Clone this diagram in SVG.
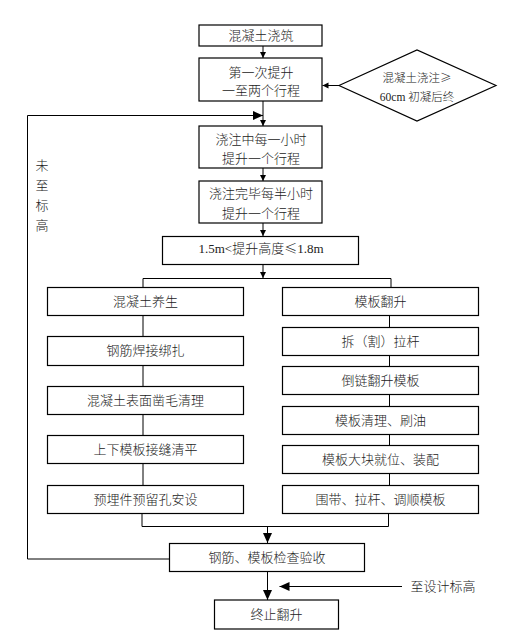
<svg xmlns="http://www.w3.org/2000/svg" width="509" height="638" viewBox="0 0 509 638">
<style>
.box{fill:#fff;stroke:#000;stroke-width:1.2}
.ln{fill:none;stroke:#000;stroke-width:1}
text{font-family:"Liberation Serif","Noto Sans CJK SC",serif;font-size:13px;font-weight:300;fill:#222;text-anchor:middle}
.sm{font-size:11.5px}
.cj{font-family:"Noto Sans CJK SC",sans-serif}
</style>
<defs>
<marker id="s" markerUnits="userSpaceOnUse" markerWidth="7" markerHeight="7" refX="6" refY="3" orient="auto"><path d="M0,0 L6,3 L0,6 z" fill="#000"/></marker>
<marker id="b" markerUnits="userSpaceOnUse" markerWidth="11" markerHeight="10" refX="10" refY="4.5" orient="auto"><path d="M0,0 L10,4.5 L0,9 z" fill="#000"/></marker>
</defs>
<g id="connectors">
<line class="ln" x1="263" y1="46" x2="263" y2="58" marker-end="url(#s)"/>
<line class="ln" x1="339" y1="85.5" x2="322.5" y2="85.5" marker-end="url(#s)"/>
<line class="ln" x1="263" y1="101" x2="263" y2="126" marker-end="url(#s)"/>
<polyline class="ln" points="170,559 27.5,559 27.5,115.5 263,115.5" marker-end="url(#b)"/>
<line class="ln" x1="263" y1="168" x2="263" y2="181" marker-end="url(#s)"/>
<line class="ln" x1="263" y1="223" x2="263" y2="236" marker-end="url(#s)"/>
<line class="ln" x1="263" y1="264" x2="263" y2="278" marker-end="url(#s)"/>
<path class="ln" d="M143,287 V278.5 H391 V287"/>
<path class="ln" d="M143,315 V336 M143,365 V386 M143,414 V435 M143,463 V485"/>
<path class="ln" d="M389.5,315 V327 M389.5,355 V366 M389.5,394 V406 M389.5,434 V445 M389.5,473 V485"/>
<path class="ln" d="M142,513 V526.5 H388.5 V513"/>
<line class="ln" x1="267.5" y1="526.5" x2="267.5" y2="543" marker-end="url(#b)"/>
<line class="ln" x1="267.5" y1="572" x2="267.5" y2="600" marker-end="url(#b)"/>
<line class="ln" x1="402" y1="586.5" x2="279.5" y2="586.5" marker-end="url(#b)"/>
</g>
<g id="n1"><rect class="box" x="199" y="25" width="123" height="21"/><text x="261" y="40">混凝土浇筑</text></g>
<g id="n2"><rect class="box" x="199" y="58" width="123" height="43"/><text x="261" y="76.5">第一次提升</text><text x="261" y="94.5">一至两个行程</text></g>
<g id="n_d"><polygon class="box" points="339,85.5 417,50 496,85.5 417,121"/><text class="sm" x="417" y="82">混凝土浇注<tspan class="cj">≥</tspan></text><text class="sm" x="417" y="101">60cm 初凝后终</text></g>
<g id="n3"><rect class="box" x="199" y="126" width="123" height="42"/><text x="261" y="143.5">浇注中每一小时</text><text x="261" y="162.5">提升一个行程</text></g>
<g id="n4"><rect class="box" x="199" y="181" width="123" height="42"/><text x="261" y="197.5">浇注完毕每半小时</text><text x="261" y="217.5">提升一个行程</text></g>
<g id="n5"><rect class="box" x="162.5" y="236.5" width="196" height="28"/><text x="261" y="252.5">1.5m&lt;提升高度<tspan class="cj">≤</tspan>1.8m</text></g>
<g id="lbl_left"><text x="42" y="170">未</text><text x="42" y="190">至</text><text x="42" y="210">标</text><text x="42" y="230">高</text></g>
<g id="l1"><rect class="box" x="47.5" y="287.5" width="196" height="28"/><text x="145.5" y="305.5">混凝土养生</text></g>
<g id="l2"><rect class="box" x="47.5" y="336.5" width="196" height="29"/><text x="145.5" y="355">钢筋焊接绑扎</text></g>
<g id="l3"><rect class="box" x="47.5" y="386.5" width="196" height="28"/><text x="145.5" y="404.5">混凝土表面凿毛清理</text></g>
<g id="l4"><rect class="box" x="47.5" y="435.5" width="196" height="28"/><text x="145.5" y="453.5">上下模板接缝清平</text></g>
<g id="l5"><rect class="box" x="47.5" y="485.5" width="196" height="28"/><text x="145.5" y="503.5">预埋件预留孔安设</text></g>
<g id="r1"><rect class="box" x="282.5" y="287.5" width="196" height="28"/><text x="380.5" y="305.5">模板翻升</text></g>
<g id="r2"><rect class="box" x="282.5" y="327.5" width="196" height="28"/><text x="380.5" y="345.5">拆（割）拉杆</text></g>
<g id="r3"><rect class="box" x="282.5" y="366.5" width="196" height="28"/><text x="380.5" y="384.5">倒链翻升模板</text></g>
<g id="r4"><rect class="box" x="282.5" y="406.5" width="196" height="28"/><text x="380.5" y="424.5">模板清理、刷油</text></g>
<g id="r5"><rect class="box" x="282.5" y="445.5" width="196" height="28"/><text x="380.5" y="463.5">模板大块就位、装配</text></g>
<g id="r6"><rect class="box" x="282.5" y="485.5" width="196" height="28"/><text x="380.5" y="503.5">围带、拉杆、调顺模板</text></g>
<g id="n6"><rect class="box" x="169.5" y="543.5" width="195" height="28"/><text x="267" y="561.5">钢筋、模板检查验收</text></g>
<g id="n7"><rect class="box" x="214.5" y="600" width="124" height="29"/><text x="276.5" y="619">终止翻升</text></g>
<g id="lbl_end"><text x="443" y="591">至设计标高</text></g>
</svg>
